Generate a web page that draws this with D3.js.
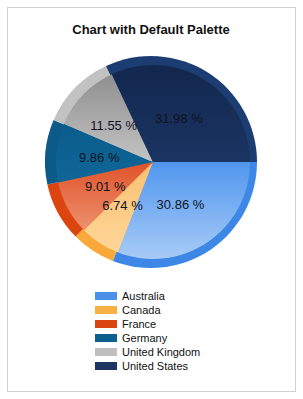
<!DOCTYPE html>
<html>
<head>
<meta charset="utf-8">
<script src="https://cdn.jsdelivr.net/npm/d3@7"></script>
<style>
  body { margin: 0; background: #fff; }
  text { font-family: "Liberation Sans", Arial, sans-serif; }
</style>
</head>
<body>
<div id="chart"></div>
<script>
// chart data
const countries = ["Australia", "Canada", "France", "Germany", "United Kingdom", "United States"];
const shares = [30.86, 6.74, 9.01, 9.86, 11.55, 31.98];

// colours: outer ring, inner gradient (top, middle, bottom), legend swatch
const ringColours = ["#3d87e6", "#f8a93a", "#dc4510", "#0b5a8a", "#c2c2c2", "#1c3d72"];
const gradTop = ["#2e74d6", "#f9b050", "#d43e0c", "#08507c", "#848484", "#11264c"];
const gradMid = ["#5096ee", "#fbc070", "#e0532a", "#0d6394", "#c4c4c4", "#1a3462"];
const gradBottom = ["#b0d0f8", "#fedaa0", "#f4b394", "#1c70a0", "#dadada", "#243f75"];
const legendColours = ["#4a90e8", "#f9b045", "#dc4510", "#0b6090", "#c0c0c0", "#1c3563"];

const width = 303, height = 399;
const cx = 151, cy = 162, outerR = 106, innerR = 97;

const svg = d3.select("#chart")
  .append("svg")
    .attr("width", width)
    .attr("height", height);

// frame
svg.append("rect")
  .attr("x", 7.5).attr("y", 7.5)
  .attr("width", 288).attr("height", 384)
  .attr("fill", "#fff")
  .attr("stroke", "#d0d0d0");

// title
svg.append("text")
  .attr("x", cx).attr("y", 34)
  .attr("text-anchor", "middle")
  .attr("font-size", 13)
  .attr("font-weight", "bold")
  .attr("fill", "#111")
  .text("Chart with Default Palette");

// gradients, vertical across the pie (local coords of the pie group)
const defs = svg.append("defs");
countries.forEach(function (c, i) {
  const g = defs.append("linearGradient")
    .attr("id", "grad" + i)
    .attr("gradientUnits", "userSpaceOnUse")
    .attr("x1", 0).attr("x2", 0)
    .attr("y1", -outerR).attr("y2", outerR);
  g.append("stop").attr("offset", 0).attr("stop-color", gradTop[i]);
  g.append("stop").attr("offset", 0.5).attr("stop-color", gradMid[i]);
  g.append("stop").attr("offset", 1).attr("stop-color", gradBottom[i]);
});

const pie = d3.pie()
  .sort(null)
  .startAngle(Math.PI / 2)
  .endAngle(Math.PI / 2 + 2 * Math.PI);

const arcs = pie(shares);

const outerArc = d3.arc().innerRadius(0).outerRadius(outerR);
const innerArc = d3.arc().innerRadius(0).outerRadius(innerR);
const labelArc = d3.arc().innerRadius(52).outerRadius(52);

const pieG = svg.append("g")
  .attr("transform", `translate(${cx},${cy})`);

// darker outer ring
pieG.selectAll(".outer")
  .data(arcs)
  .enter().append("path")
    .attr("class", "outer")
    .attr("d", outerArc)
    .attr("fill", function (d, i) { return ringColours[i]; });

// lighter shaded inner pie, shifted a touch to the right
const innerG = svg.append("g")
  .attr("transform", `translate(${cx + 2},${cy})`);

innerG.selectAll(".inner")
  .data(arcs)
  .enter().append("path")
    .attr("class", "inner")
    .attr("d", innerArc)
    .attr("fill", function (d, i) { return "url(#grad" + i + ")"; });

// percentage labels
const labelG = svg.append("g")
  .attr("transform", `translate(${cx},${cy})`);

labelG.selectAll(".lbl")
  .data(arcs)
  .enter().append("text")
    .attr("class", "lbl")
    .attr("transform", function (d) { return `translate(${labelArc.centroid(d)})`; })
    .attr("text-anchor", "middle")
    .attr("dy", "0.35em")
    .attr("font-size", 13)
    .attr("fill", "#10131f")
    .text(function (d) { return d3.format(".2f")(d.data) + " %"; });

// legend
const legend = svg.append("g")
  .attr("transform", "translate(95,292)");

const items = legend.selectAll("g")
  .data(countries)
  .enter().append("g")
    .attr("transform", function (d, i) { return `translate(0,${i * 14})`; });

items.append("rect")
  .attr("width", 22).attr("height", 8)
  .attr("fill", function (d, i) { return legendColours[i]; });

items.append("text")
  .attr("x", 27).attr("y", 4)
  .attr("dy", "0.35em")
  .attr("font-size", 11)
  .attr("fill", "#111")
  .text(function (d) { return d; });
</script>
</body>
</html>
